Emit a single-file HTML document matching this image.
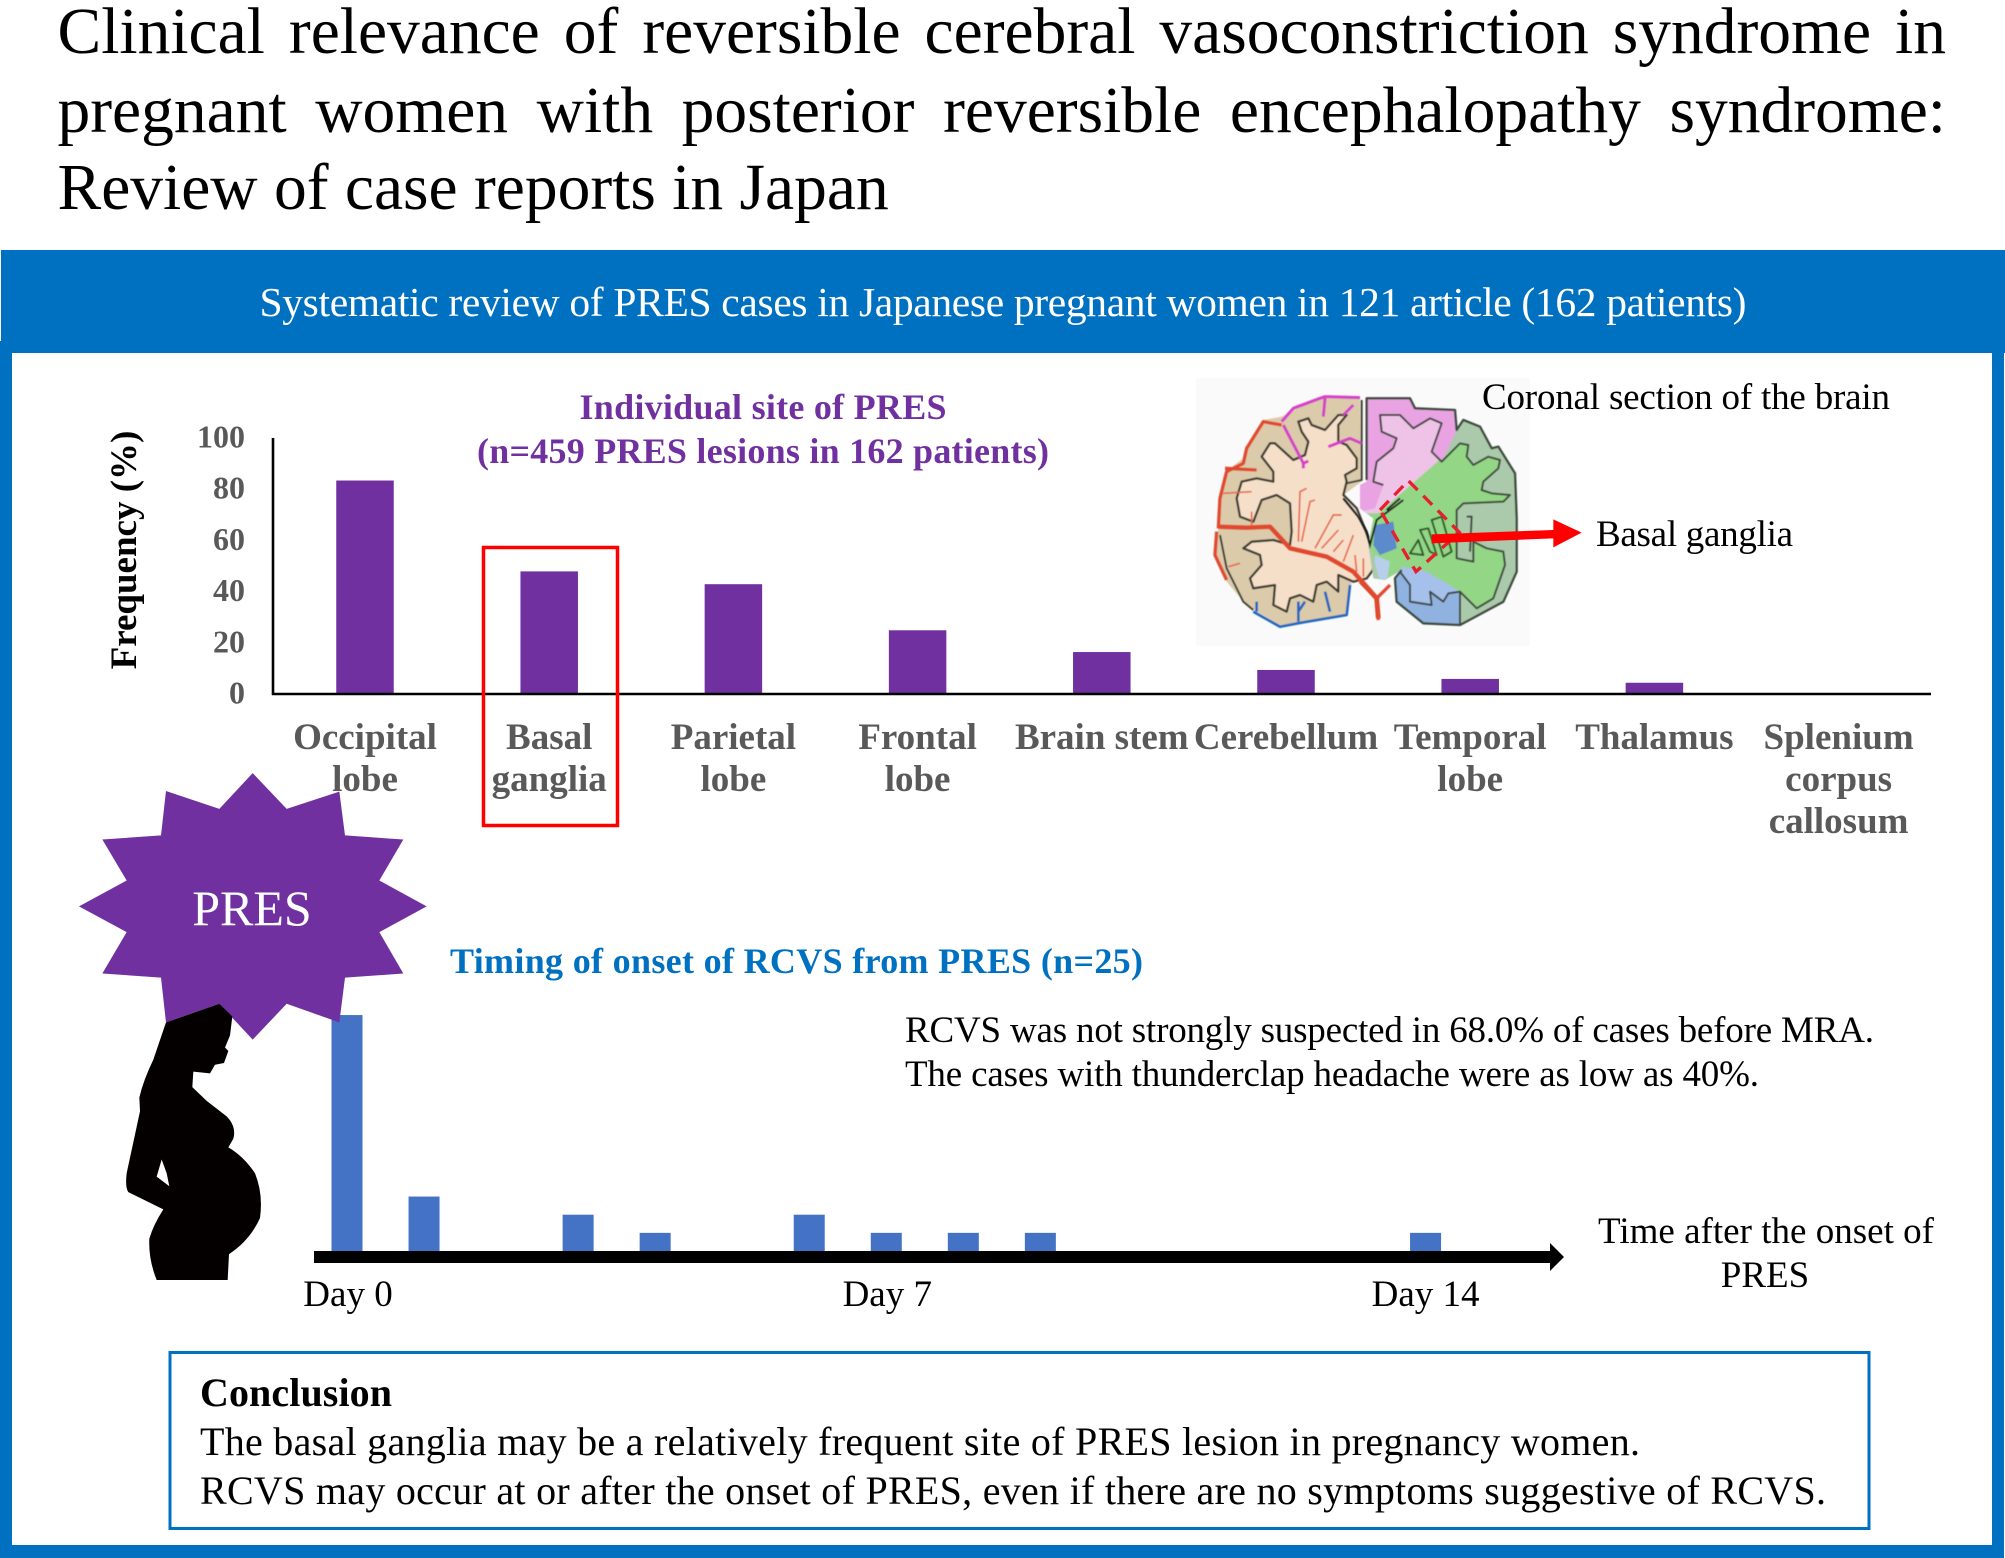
<!DOCTYPE html>
<html lang="en">
<head>
<meta charset="utf-8">
<title>Clinical relevance of RCVS in pregnant women with PRES</title>
<style>
html,body{margin:0;padding:0;background:#fff;}
body{position:relative;width:2005px;height:1558px;overflow:hidden;font-family:"Liberation Serif",serif;}
.tl{position:absolute;left:57.5px;width:1888.5px;font-size:65.5px;line-height:78px;color:#000;white-space:nowrap;}
.j{text-align:justify;text-align-last:justify;white-space:normal;}
svg{position:absolute;left:0;top:0;}
text{font-family:"Liberation Serif",serif;}
</style>
</head>
<body>
<div class="tl j" style="top:-7px">Clinical relevance of reversible cerebral vasoconstriction syndrome in</div>
<div class="tl j" style="top:72px">pregnant women with posterior reversible encephalopathy syndrome:</div>
<div class="tl" style="top:149px">Review of case reports in Japan</div>

<svg id="stage" width="2005" height="1558" viewBox="0 0 2005 1558" xmlns="http://www.w3.org/2000/svg">
  <defs>
    <filter id="soft" x="-5%" y="-5%" width="110%" height="110%"><feGaussianBlur stdDeviation="1.8"/></filter>
    <clipPath id="right-hemi"><path d="M20,40 L150,40 L165,70 L285,75 L290,135 L310,105 L360,125 L395,190 L415,185 L465,265 L470,400 L470,560 L430,650 L300,720 L190,715 L110,650 L105,580 L125,555 L75,585 L40,580 L25,480 L40,400 L0,370 L0,300 L20,290Z"/></clipPath>
    <clipPath id="right-inner"><path d="M45,370 L70,300 L40,290 L50,230 L100,190 L110,160 L65,140 L60,90 L120,90 L160,130 L210,100 L245,115 L215,200 L245,230 L300,175 L325,180 L320,215 L340,240 L385,215 L420,225 L415,250 L370,290 L365,315 L395,325 L450,330 L430,350 L310,355 L290,375 L290,520 L340,530 L340,470 L380,490 L430,500 L435,540 L400,640 L350,670 L300,620 L265,625 L250,650 L210,620 L215,660 L150,650 L150,600 L120,560 L60,590 L30,480 L0,380 Z"/></clipPath>
  </defs>

  <!-- frame -->
  <g>
    <rect x="1" y="250" width="2004" height="103" fill="#0070C0"/>
    <rect x="0" y="341" width="12" height="1217" fill="#0070C0"/>
    <rect x="1992" y="341" width="12" height="1217" fill="#0070C0"/>
    <rect x="0" y="1545" width="2004" height="13" fill="#0070C0"/>
  </g>
  <text x="1003" y="316" text-anchor="middle" font-size="41.5" fill="#fff" textLength="1487" lengthAdjust="spacing">Systematic review of PRES cases in Japanese pregnant women in 121 article (162 patients)</text>

  <!-- site chart static text -->
  <text x="763" y="419" text-anchor="middle" font-size="36" font-weight="bold" fill="#7030A0" textLength="367" lengthAdjust="spacing">Individual site of PRES</text>
  <text x="763" y="463" text-anchor="middle" font-size="36" font-weight="bold" fill="#7030A0" textLength="572" lengthAdjust="spacing">(n=459 PRES lesions in 162 patients)</text>
  <text transform="translate(136,550) rotate(-90)" text-anchor="middle" font-size="37" font-weight="bold" fill="#000">Frequency (%)</text>

  <g id="site-chart"></g>
  <rect x="483.5" y="547.5" width="134" height="278" fill="none" stroke="#FF0000" stroke-width="3.5"/>

  <!-- brain -->
  <g>
    <rect x="1196" y="378" width="334" height="268" fill="#FAFAFA"/>
    <g transform="translate(1210,385) scale(0.33333)" filter="url(#soft)">
      <path d="M450,35 L330,35 L215,95 L160,105 L100,220 L45,260 L25,340 L25,430 L15,510 L50,590 L100,650 L140,680 L210,720 L280,715 L410,690 L425,590 L470,580 L500,540 L480,470 L440,370 L400,330 L455,290Z" fill="#DCCBAA"/>
      <path d="M410,290 L405,270 L440,250 L440,220 L410,180 L385,170 L385,120 L410,90 L385,90 L345,135 L305,120 L295,100 L265,110 L275,140 L295,170 L285,210 L250,225 L195,175 L180,175 L155,215 L190,260 L190,290 L140,280 L95,290 L80,340 L90,395 L130,410 L155,345 L200,330 L240,355 L245,440 L240,480 L190,465 L125,470 L100,490 L150,510 L155,540 L120,580 L130,610 L195,600 L190,660 L230,680 L240,640 L270,630 L310,650 L320,600 L350,590 L385,620 L385,570 L430,590 L470,580 L500,540 L480,470 L440,370 L400,330Z" fill="#F6DFC8" stroke="#3A3A30" stroke-width="7" stroke-linejoin="round"/>
      <path d="M455,45 L455,285 L410,295 M30,450 L50,550 L100,650 L130,675" fill="none" stroke="#3A3A30" stroke-width="6"/>
      <path d="M25,425 L110,428 L180,425 L240,490 L350,515 L430,560 L500,640 L505,700" fill="none" stroke="#E04A2F" stroke-width="14" stroke-linejoin="round"/>
      <path d="M25,430 L30,340 L50,260 L100,235 L110,190 L160,110 L215,120 M45,250 L140,255 M20,440 L15,510 L50,585" fill="none" stroke="#E04A2F" stroke-width="10" stroke-linejoin="round"/>
      <path d="M40,325 L125,320 M125,380 L125,420 M55,545 L90,535 M265,470 L270,320 L290,310 M275,470 L300,350 L315,345 M315,490 L370,390 L395,390 M335,490 L385,435 M370,500 L400,465 M400,530 L430,450 M440,560 L435,510 M460,575 L460,520" fill="none" stroke="#E8664E" stroke-width="5"/>
      <path d="M215,110 L250,70 L330,40 L345,35 L450,38 M220,120 L280,235 L295,228 M280,235 L280,250 M345,40 L340,95 M355,185 L420,160 L455,175 M430,60 L400,90" fill="none" stroke="#D63FC8" stroke-width="9" stroke-linejoin="round"/>
      <path d="M130,680 L210,725 L280,712 L410,690 L420,600 M140,680 L140,650 M265,710 L265,650 M285,650 L265,680 M345,620 L360,680" fill="none" stroke="#2468C0" stroke-width="8" stroke-linejoin="round"/>
    </g>
    <g transform="translate(1360,385) scale(0.33333)" filter="url(#soft)">
      <g clip-path="url(#right-hemi)">
        <rect x="-10" y="20" width="500" height="720" fill="#ABC9AB"/>
        <polygon points="-10,20 150,20 290,60 290,135 245,230 60,400 -10,400" fill="#E9A3E2"/>
        <polygon points="100,560 300,620 300,730 100,730" fill="#8FB2E0"/>
        <g clip-path="url(#right-inner)">
          <rect x="-10" y="20" width="500" height="720" fill="#93D685"/>
          <polygon points="-10,60 250,60 250,215 55,385 -10,385" fill="#EFC2E8"/>
          <polygon points="100,570 130,545 200,560 300,620 300,730 100,730" fill="#A6C0EC"/>
          <polygon points="45,420 100,410 110,490 60,510 40,480" fill="#5B8BCB"/>
          <polygon points="45,510 90,530 80,590 40,590" fill="#B7CFEA"/>
        </g>
      </g>
      <path d="M20,285 L20,40 L150,40 L165,70 L285,75 L290,135 L310,105 L360,125 L395,190 L415,185 L465,265 L470,400 L470,560 L430,650 L300,720 L190,715 L110,650 L105,580 L125,555" fill="none" stroke="#3A4A3A" stroke-width="7" stroke-linejoin="round"/>
      <path d="M70,300 L40,290 L50,230 L100,190 L110,160 L65,140 L60,90 L120,90 L160,130 L210,100 L245,115 L215,200 L245,230 L300,175 L325,180 L320,215 L340,240 L385,215 L420,225 L415,250 L370,290 L365,315 L395,325 L450,330 L430,350 L310,355 L290,375 L290,520 L340,530 L340,470 L380,490 L430,500 L435,540 L400,640 L350,670 L300,620 L265,625 L250,650 L210,620 L215,660 L150,650 L150,600 L120,560 M300,620 L300,720 M320,395 L335,395 L330,500" fill="none" stroke="#3C4A3C" stroke-width="6" stroke-linejoin="round"/>
      <path d="M-50,340 L-5,395 L20,440 L30,480 L50,405 L130,345 M120,340 L80,375" fill="none" stroke="#1E1E1E" stroke-width="6"/>
      <path d="M150,505 L175,465 L190,510Z M180,435 L205,430 L230,510 L210,500Z M215,405 L245,395 L275,500 L250,515Z" fill="none" stroke="#2F5A2A" stroke-width="6" stroke-linejoin="round"/>
      <path d="M0,590 L50,640 L55,705 M90,600 L50,640" fill="none" stroke="#E04A2F" stroke-width="10"/>
    </g>
    <g transform="translate(1180,360) scale(0.33333)">
      <path d="M600,450 L685,362 L838,517 L708,635Z" fill="none" stroke="#E5202E" stroke-width="10" stroke-dasharray="38 24"/>
      <path d="M755,523 L1120,510 L1120,478 L1205,518 L1120,562 L1120,535 L755,550Z" fill="#FF0000"/>
    </g>
  </g>
  <text x="1482" y="409" font-size="37" fill="#000" textLength="408" lengthAdjust="spacing">Coronal section of the brain</text>
  <text x="1596" y="546" font-size="37" fill="#000" textLength="197" lengthAdjust="spacing">Basal ganglia</text>

  <!-- timing chart -->
  <text x="450" y="973" font-size="36" font-weight="bold" fill="#0070C0" textLength="693" lengthAdjust="spacing">Timing of onset of RCVS from PRES (n=25)</text>
  <g id="timing-chart"></g>
  <text x="905" y="1042" font-size="37" fill="#000" textLength="969" lengthAdjust="spacing">RCVS was not strongly suspected in 68.0% of cases before MRA.</text>
  <text x="905" y="1086" font-size="37" fill="#000" textLength="854" lengthAdjust="spacing">The cases with thunderclap headache were as low as 40%.</text>
  <text x="1598" y="1243" font-size="37" fill="#000" textLength="336" lengthAdjust="spacing">Time after the onset of</text>
  <text x="1765" y="1287" font-size="37" fill="#000" text-anchor="middle">PRES</text>

  <!-- star -->
  <g transform="translate(60,760) scale(0.33333,0.34435)">
    <polygon fill="#7030A0" points="578,38 680,142 838,92 855,219 1030,231 958,350 1100,425 958,500 1030,620 855,632 838,762 680,708 578,812 478,708 318,762 303,632 127,620 200,500 57,425 200,350 127,231 303,219 318,90 478,142"/>
    <path fill="#040000" fill-rule="evenodd" d="M318,762 L478,708 L517,745 L510,800 L495,835 L505,845 L492,880 L465,885 L450,910 L400,905 L397,950 L440,990 L500,1035 Q530,1065 520,1100 L505,1125 Q550,1150 585,1200 Q610,1260 600,1330 Q570,1395 507,1435 L503,1510 L290,1510 Q265,1450 268,1390 Q280,1350 310,1305 L205,1255 Q195,1240 200,1200 L240,1020 L238,980 Q250,930 280,870Z M305,1160 L290,1210 L328,1238 L320,1200Z"/>
  </g>
  <text x="252" y="925" text-anchor="middle" font-size="50" fill="#fff">PRES</text>

  <!-- conclusion -->
  <rect x="170" y="1352.5" width="1699" height="176" fill="none" stroke="#0070C0" stroke-width="3"/>
  <text x="200" y="1406" font-size="40" font-weight="bold" fill="#000" textLength="192" lengthAdjust="spacing">Conclusion</text>
  <text x="200" y="1455" font-size="40" fill="#000" textLength="1440" lengthAdjust="spacing">The basal ganglia may be a relatively frequent site of PRES lesion in pregnancy women.</text>
  <text x="200" y="1504" font-size="40" fill="#000" textLength="1626" lengthAdjust="spacing">RCVS may occur at or after the onset of PRES, even if there are no symptoms suggestive of RCVS.</text>
</svg>

<script>
var siteCategories = [["Occipital","lobe"],["Basal","ganglia"],["Parietal","lobe"],["Frontal","lobe"],["Brain stem"],["Cerebellum"],["Temporal","lobe"],["Thalamus"],["Splenium","corpus","callosum"]];
var siteFrequency = [83, 47.5, 42.5, 24.5, 16, 9, 5.5, 4, 0];
var siteTicks = [0, 20, 40, 60, 80, 100];
var timingDays = [0,1,2,3,4,5,6,7,8,9,10,11,12,13,14];
var timingCounts = [13,3,0,2,1,0,2,1,1,1,0,0,0,0,1];
var timingLabels = ["Day 0","Day 7","Day 14"];
var timingLabelDays = [0,7,14];

var NS = "http://www.w3.org/2000/svg";
function mk(tag, parent, attrs, txt){
  var el = document.createElementNS(NS, tag);
  for (var k in attrs) el.setAttribute(k, attrs[k]);
  if (txt !== undefined) el.textContent = txt;
  parent.appendChild(el);
  return el;
}
function siteX(i){ return 365 + i * 184.2; }
function siteY(v){ return 693 - v * 2.56; }
function dayX(d){ return 347 + d * 77.04; }
function countY(c){ return 1251 - c * 18.15; }

var site = document.getElementById("site-chart");
siteFrequency.forEach(function(v, i){
  var bar = mk("rect", site, {x: siteX(i) - 28.75, y: siteY(v), width: 57.5, height: 693 - siteY(v), fill: "#7030A0"});
  
  
});
var yAxis = mk("line", site, {x1: 273, y1: 438, x2: 273, y2: 695, stroke: "#000", "stroke-width": 2.6});


var xAxis = mk("line", site, {x1: 272, y1: 694, x2: 1931, y2: 694, stroke: "#000", "stroke-width": 2.6});


siteTicks.forEach(function(t){
  var lab = mk("text", site, {x: 245, y: siteY(t) + 10.5, "text-anchor": "end", "font-size": 32, "font-weight": "bold", fill: "#595959"}, String(t));
  
  
});
siteCategories.forEach(function(lines, i){
  lines.forEach(function(line, j){
    var lab = mk("text", site, {x: siteX(i), y: 749 + j * 42, "text-anchor": "middle", "font-size": 37, "font-weight": "bold", fill: "#595959"}, line);
    
    
  });
});

var timing = document.getElementById("timing-chart");
timingDays.forEach(function(d, i){
  if (!timingCounts[i]) return;
  var bar = mk("rect", timing, {x: dayX(d) - 15.5, y: countY(timingCounts[i]), width: 31, height: 1251 - countY(timingCounts[i]), fill: "#4472C4"});
  
  
});
var arrow = mk("path", timing, {d: "M314,1251 H1550 V1243 L1564,1257 L1550,1271 V1263 H314Z", fill: "#000"});


timingLabels.forEach(function(s, i){
  var lab = mk("text", timing, {x: dayX(timingLabelDays[i]) + (i === 2 ? 0 : 1), y: 1306, "text-anchor": "middle", "font-size": 37, fill: "#000"}, s);
  
  
});
</script>
</body>
</html>
